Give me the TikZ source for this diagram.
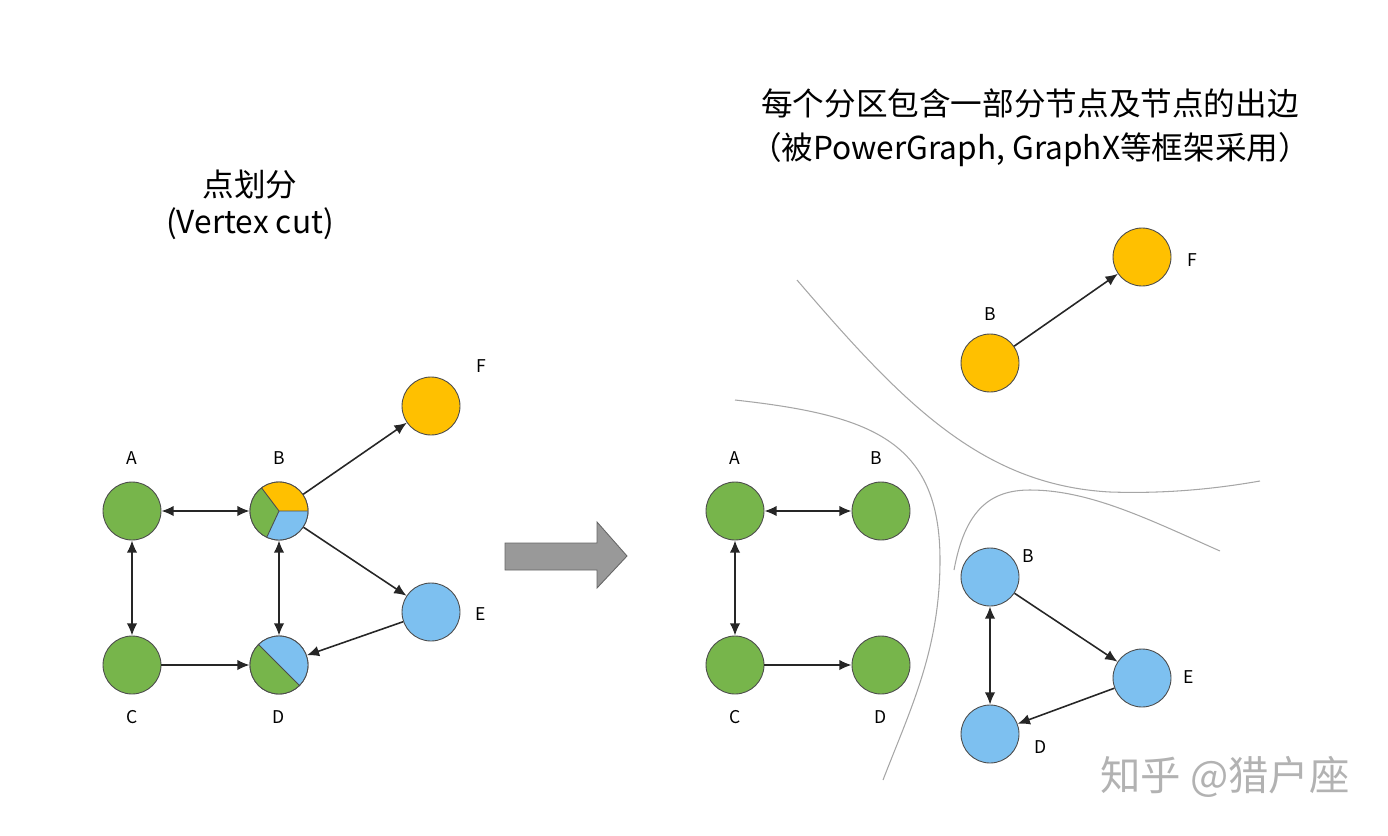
\documentclass[tikz,border=0pt]{standalone}
\usepackage{fontspec}
\setmainfont{Noto Sans CJK SC}
\usetikzlibrary{arrows.meta}
\definecolor{gr}{HTML}{77B54B}
\definecolor{bl}{HTML}{7DC0F0}
\definecolor{ye}{HTML}{FFC000}
\begin{document}
\begin{tikzpicture}[x=0.02cm,y=-0.02cm,
 nd/.style={circle,draw=black!70,line width=0.5pt,minimum size=1.16cm,inner sep=0pt},
 lb/.style={font=\fontsize{10}{12}\selectfont},
 ar/.style={-{Latex[length=7pt,width=6pt]},line width=0.9pt,black!85},
 br/.style={{Latex[length=7pt,width=6pt]}-{Latex[length=7pt,width=6pt]},line width=0.9pt,black!85},
 cv/.style={gray!70,line width=0.6pt}]
\useasboundingbox (0,0) rectangle (1388,835);
\node[font=\fontsize{18}{21}\selectfont,align=center] (t1) at (250,205) {点划分\\(Vertex cut)};
\node[font=\fontsize{18}{25}\selectfont,align=center] (t2) at (1030,128) {每个分区包含一部分节点及节点的出边\\（被PowerGraph, GraphX等框架采用）};
% left graph
\node[nd,fill=gr] (A) at (132,511) {};
\node[nd] (B) at (279,511) {};
\fill[ye] (279,511) -- ++(0:0.58cm) arc[start angle=0,end angle=127,radius=0.58cm] -- cycle;
\fill[gr] (279,511) -- ++(127:0.58cm) arc[start angle=127,end angle=245,radius=0.58cm] -- cycle;
\fill[bl] (279,511) -- ++(245:0.58cm) arc[start angle=245,end angle=360,radius=0.58cm] -- cycle;
\draw[black!70,line width=0.5pt] (279,511) circle[radius=0.58cm] (279,511) -- ++(0:0.58cm) (279,511) -- ++(127:0.58cm) (279,511) -- ++(245:0.58cm);
\node[nd,fill=gr] (C) at (132,665) {};
\node[nd] (D) at (279,665) {};
\fill[bl] (279,665) ++(135:0.58cm) arc[start angle=135,end angle=-45,radius=0.58cm] -- cycle;
\fill[gr] (279,665) ++(135:0.58cm) arc[start angle=135,end angle=315,radius=0.58cm] -- cycle;
\draw[black!70,line width=0.5pt] (279,665) circle[radius=0.58cm] (279,665) ++(135:0.58cm) -- ++(-45:1.16cm);
\node[nd,fill=bl] (E) at (431,612) {};
\node[nd,fill=ye] (F) at (431,406) {};
\node[lb] at (132,458) {A};\node[lb] at (279,458) {B};\node[lb] at (481,366) {F};
\node[lb] at (132,717) {C};\node[lb] at (279,717) {D};\node[lb] at (481,614) {E};
\draw[br] (A) -- (B); \draw[br] (A) -- (C); \draw[ar] (C) -- (D); \draw[br] (B) -- (D);
\draw[ar] (B) -- (F); \draw[ar] (B) -- (E); \draw[ar] (E) -- (D);
% big arrow
\draw[black!60,fill=black!40,line width=0.5pt] (505,543) -- (597,543) -- (597,522) -- (627,556) -- (597,588) -- (597,570) -- (505,570) -- cycle;
% curves
\draw[cv] (797,280) .. controls (900,400) and (980,485) .. (1110,492) .. controls (1170,494) and (1220,488) .. (1260,481);
\draw[cv] (735,400) .. controls (870,415) and (940,440) .. (940,560) .. controls (940,650) and (910,710) .. (883,780);
\draw[cv] (954,570) .. controls (965,510) and (990,490) .. (1030,490) .. controls (1090,490) and (1150,520) .. (1220,551);
% right graph
\node[nd,fill=gr] (A2) at (735,511) {};
\node[nd,fill=gr] (B2) at (881,511) {};
\node[nd,fill=gr] (C2) at (735,665) {};
\node[nd,fill=gr] (D2) at (881,665) {};
\node[lb] at (735,458) {A};\node[lb] at (876,458) {B};\node[lb] at (735,717) {C};\node[lb] at (881,717) {D};
\draw[br] (A2) -- (B2); \draw[br] (A2) -- (C2); \draw[ar] (C2) -- (D2);
\node[nd,fill=ye] (B4) at (990,363) {};
\node[nd,fill=ye] (F4) at (1142,257) {};
\node[lb] at (990,314) {B};\node[lb] at (1192,260) {F};
\draw[ar] (B4) -- (F4);
\node[nd,fill=bl] (B3) at (990,577) {};
\node[nd,fill=bl] (E3) at (1142,678) {};
\node[nd,fill=bl] (D3) at (990,734) {};
\node[lb] at (1028,556) {B};\node[lb] at (1189,677) {E};\node[lb] at (1041,747) {D};
\draw[br] (B3) -- (D3); \draw[ar] (B3) -- (E3); \draw[ar] (E3) -- (D3);
\node[font=\fontsize{23}{26}\selectfont,text=black!30] (wm) at (1225,777) {知乎 @猎户座};
\end{tikzpicture}
\end{document}
